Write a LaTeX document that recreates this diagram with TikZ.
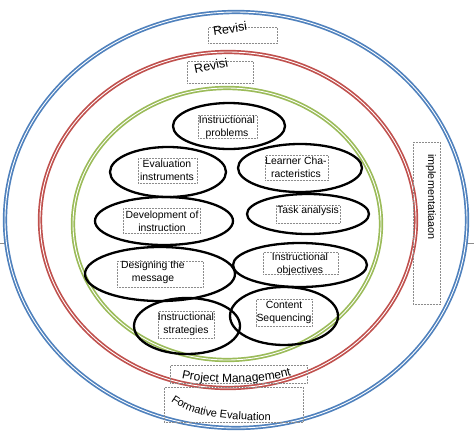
\documentclass[tikz,border=0pt]{standalone}
\usepackage{fontspec}
\setmainfont{Liberation Sans}
\usetikzlibrary{shapes.geometric,decorations.text}
\definecolor{cblue}{HTML}{4F81BD}
\definecolor{cred}{HTML}{C0504D}
\definecolor{cgreen}{HTML}{9BBB59}
\definecolor{cgrey}{HTML}{8C8C8C}
\begin{document}
\begin{tikzpicture}[x=1pt,y=-1pt,
  ring/.style={line width=1.7pt, double=white, double distance=0.9pt},
  blob/.style={draw=black, line width=2.3pt, ellipse, inner sep=0pt},
  tbox/.style={draw=cgrey, densely dotted, line width=0.5pt, inner sep=0pt, rectangle},
  txt/.style={inner sep=0pt, align=center, font=\fontsize{10.4}{13}\selectfont},
  big/.style={inner sep=0pt, font=\fontsize{12.5}{14}\selectfont}
]
\useasboundingbox (0,0) rectangle (474,434);
\fill[white] (0,0) rectangle (474,434);
% thin horizontal line behind the rings
\coordinate (tl) at (0,243);
\coordinate (tr) at (474,243);
\draw[cgrey, line width=0.5pt] (tl) -- (tr);
% rings
\filldraw[ring, draw=cblue, fill=white] (236,220) ellipse [x radius=231pt, y radius=208pt];
\draw[ring, draw=cred] (228,220) ellipse [x radius=188pt, y radius=168pt];
\draw[ring, draw=cgreen] (227,224) ellipse [x radius=154pt, y radius=136pt];
% ellipses
\node[blob, minimum width=112pt, minimum height=46pt] (e1) at (229,126) {};
\node[blob, minimum width=116pt, minimum height=50pt] (e2) at (168,172) {};
\node[blob, minimum width=124pt, minimum height=48pt] (e3) at (300,168) {};
\node[blob, minimum width=138pt, minimum height=48pt] (e4) at (164,221) {};
\node[blob, minimum width=122pt, minimum height=40pt] (e5) at (308,214) {};
\node[blob, minimum width=150pt, minimum height=54pt] (e6) at (160,274) {};
\node[blob, minimum width=134pt, minimum height=44pt] (e7) at (300,265) {};
\node[blob, minimum width=108pt, minimum height=58pt] (e8) at (284,316) {};
\node[blob, minimum width=106pt, minimum height=56pt] (e9) at (187,326) {};
% dotted text boxes
\node[tbox, minimum width=59pt, minimum height=23pt] (b1) at (227.5,126.5) {};
\node[tbox, minimum width=59pt, minimum height=25pt] (b2) at (167.5,170.5) {};
\node[tbox, minimum width=63pt, minimum height=25pt] (b3) at (296.5,167.5) {};
\node[tbox, minimum width=77pt, minimum height=25pt] (b4) at (161.5,220.5) {};
\node[tbox, minimum width=64pt, minimum height=18pt] (b5) at (308,214) {};
\node[tbox, minimum width=86pt, minimum height=26pt] (b6) at (160,274) {};
\node[tbox, minimum width=75pt, minimum height=22pt] (b7) at (300.5,263) {};
\node[tbox, minimum width=56pt, minimum height=27pt] (b8) at (284,312.5) {};
\node[tbox, minimum width=56pt, minimum height=27pt] (b9) at (186,324.5) {};
% texts
\node[txt] (t1) at (227,127) {Instructional\\problems};
\node[txt] (t2) at (167,170) {Evaluation\\instruments};
\node[txt] (t3) at (296,167) {Learner Cha-\\racteristics};
\node[txt] (t4) at (162,221) {Development of\\instruction};
\node[txt] (t5) at (308,211) {Task analysis};
\node[txt] (t6) at (153,272) {Designing the\\message};
\node[txt] (t7) at (300,264) {Instructional\\objectives};
\node[txt] (t8) at (284,312) {Content\\Sequencing};
\node[txt] (t9) at (186,324) {Instructional\\strategies};
% outer labels
\node[tbox, minimum width=69pt, minimum height=16pt] (rb1) at (242.5,35) {};
\node[big, rotate=8] (r1) at (230,28.5) {Revisi};
\node[tbox, minimum width=66pt, minimum height=22pt] (rb2) at (220,72) {};
\node[big, rotate=11] (r2) at (211,65.5) {Revisi};
\node[tbox, minimum width=137pt, minimum height=18pt] (pb) at (238.5,374) {};
\path[decorate, decoration={text along path, text align=center,
  text={|\fontsize{12}{14}\selectfont|Project Management}}]
  (177,377) .. controls (205,385) and (265,385) .. (296,374);
\node[tbox, minimum width=139pt, minimum height=35pt] (fb) at (233.5,404.5) {};
\path[decorate, decoration={text along path, text align=left,
  text={|\fontsize{11}{13}\selectfont|Formative Evaluation}}]
  (171,401) .. controls (190,415) and (215,421) .. (285,421);
\node[tbox, minimum width=27pt, minimum height=162pt] (ib) at (426.5,223) {};
\node[txt, rotate=-90, anchor=west, font=\fontsize{10.8}{13}\selectfont] (it) at (431,154) {implementatiaaon};
\end{tikzpicture}
\end{document}
